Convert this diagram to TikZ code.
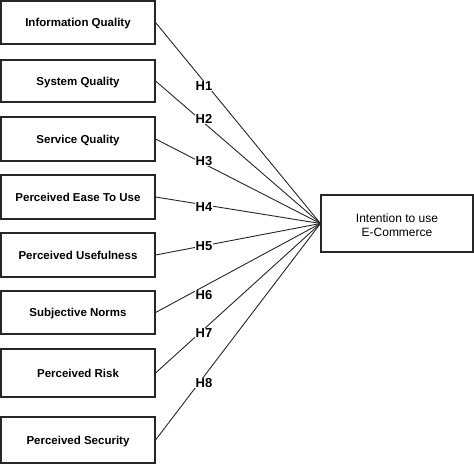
\documentclass[tikz,border=0pt]{standalone}
\usepackage{fontspec}
\setmainfont{Liberation Sans}
\begin{document}
\begin{tikzpicture}[x=1pt,y=-1pt,
  lbox/.style={draw=black!85,line width=1.1pt,fill=white,minimum width=154pt,inner sep=0pt,text height=10pt,text depth=1.5pt,font=\bfseries\fontsize{11.5}{13}\selectfont},
  rbox/.style={draw=black!85,line width=1.1pt,fill=white,minimum width=152pt,minimum height=57pt,inner sep=0pt,align=center,font=\fontsize{12}{14}\selectfont},
  link/.style={draw=black!85,line width=0.9pt},
  hlab/.style={fill=white,inner sep=0.6pt,font=\bfseries\fontsize{13}{15}\selectfont}]
\useasboundingbox (0,0) rectangle (474,466);
\node[lbox,minimum height=43pt] (iq) at (78,22.5) {Information Quality};
\node[lbox,minimum height=42pt] (sq) at (78,81) {System Quality};
\node[lbox,minimum height=44pt] (svq) at (78,139) {Service Quality};
\node[lbox,minimum height=44pt] (peu) at (78,197) {Perceived Ease To Use};
\node[lbox,minimum height=44pt] (pu) at (78,255) {Perceived Usefulness};
\node[lbox,minimum height=43pt] (sn) at (78,312.5) {Subjective Norms};
\node[lbox,minimum height=48pt] (pr) at (78,373) {Perceived Risk};
\node[lbox,minimum height=46pt] (ps) at (78,440) {Perceived Security};
\node[rbox] (ie) at (397,223.5) {\rule{0pt}{13pt}Intention to use\\E-Commerce};
\foreach \n in {iq,sq,svq,peu,pu,sn,pr,ps}{\draw[link] (\n.east) -- (ie.west);}
\node[hlab] (h1) at (204,86) {H1};
\node[hlab] (h2) at (204,119) {H2};
\node[hlab] (h3) at (204,161) {H3};
\node[hlab] (h4) at (204,207) {H4};
\node[hlab] (h5) at (204,246) {H5};
\node[hlab] (h6) at (204,295) {H6};
\node[hlab] (h7) at (204,333) {H7};
\node[hlab] (h8) at (204,383) {H8};
\end{tikzpicture}
\end{document}
